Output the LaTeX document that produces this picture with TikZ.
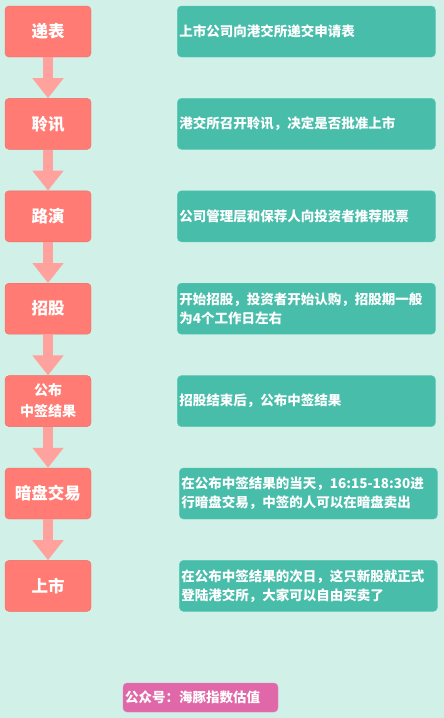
\documentclass[tikz,border=0pt]{standalone}
\usepackage{fontspec}
\setmainfont{Noto Sans CJK SC}
\usetikzlibrary{positioning,arrows.meta}
\definecolor{bgmint}{HTML}{D0F0E8}
\definecolor{stepred}{HTML}{FF7B73}
\definecolor{stepedge}{HTML}{E86F66}
\definecolor{noteteal}{HTML}{47BDAA}
\definecolor{noteedge}{HTML}{5CCAB7}
\definecolor{arrowpink}{HTML}{FFA29D}
\definecolor{tagpink}{HTML}{E067A8}

\begin{document}
\begin{tikzpicture}[
  x=1pt, y=-1pt,
  node distance=41pt and 86pt,
  stepbox/.style={draw=stepedge, fill=stepred, rounded corners=4pt,
                  text=white, font=\fontsize{16.5}{19}\selectfont\bfseries,
                  align=center, minimum width=86pt, minimum height=51pt,
                  inner sep=2pt},
  notebox/.style={draw=noteedge, fill=noteteal, rounded corners=4pt,
                  text=white, font=\fontsize{13.5}{19}\selectfont\bfseries,
                  align=left, text width=254pt, minimum height=51pt,
                  inner xsep=2pt, inner ysep=2pt},
  arr/.style={arrowpink, line width=10pt,
              -{Triangle[width=30pt, length=20pt]}}
]
  % background and page size
  \fill[bgmint] (0,0) rectangle (444,718);

  % steps
  \node[stepbox] (dibiao) at (48,31.5) {递表};
  \node[stepbox, below=of dibiao] (tingxun) {聆讯};
  \node[stepbox, below=of tingxun] (luyan) {路演};
  \node[stepbox, below=of luyan] (zhaogu) {招股};
  \node[stepbox, below=of zhaogu, font=\fontsize{14}{21}\selectfont\bfseries] (gongbu) {公布\\中签结果};
  \node[stepbox, below=of gongbu] (anpan) {暗盘交易};
  \node[stepbox, below=of anpan] (shangshi) {上市};

  \draw[arr] (dibiao) -- (tingxun);
  \draw[arr] (tingxun) -- (luyan);
  \draw[arr] (luyan) -- (zhaogu);
  \draw[arr] (zhaogu) -- (gongbu);
  \draw[arr] (gongbu) -- (anpan);
  \draw[arr] (anpan) -- (shangshi);

  % notes
  \node[notebox, right=of dibiao] (n1) {上市公司向港交所递交申请表};
  \node[notebox, right=of tingxun] (n2) {港交所召开聆讯，决定是否批准上市};
  \node[notebox, right=of luyan] (n3) {公司管理层和保荐人向投资者推荐股票};
  \node[notebox, right=of zhaogu] (n4) {开始招股，投资者开始认购，招股期一般\\为4个工作日左右};
  \node[notebox, right=of gongbu] (n5) {招股结束后，公布中签结果};
  \node[notebox, right=88pt of anpan] (n6) {在公布中签结果的当天，16:15-18:30进\\行暗盘交易，中签的人可以在暗盘卖出};
  \node[notebox, right=88pt of shangshi] (n7) {在公布中签结果的次日，这只新股就正式\\登陆港交所，大家可以自由买卖了};

  % footer
  \node[draw=tagpink!80!white, fill=tagpink, rounded corners=4pt, text=white,
        font=\fontsize{13.5}{16}\selectfont\bfseries, align=left,
        text width=151pt, minimum height=29pt, inner xsep=2pt]
        (tag) at (200.5,697.5) {公众号：海豚指数估值};
\end{tikzpicture}
\end{document}
